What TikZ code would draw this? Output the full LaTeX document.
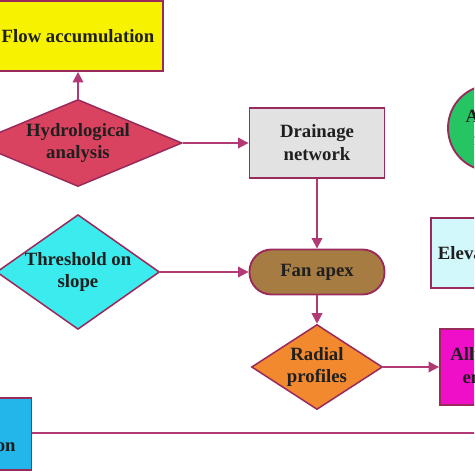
\documentclass[tikz,border=0pt]{standalone}
\usepackage{fontspec}
\setmainfont{Liberation Serif}
\usetikzlibrary{shapes.geometric,arrows.meta}

\definecolor{rim}{HTML}{9A2A5C}
\definecolor{wire}{HTML}{B23A74}
\definecolor{flowfill}{HTML}{F7F300}
\definecolor{hydrofill}{HTML}{D9435F}
\definecolor{drainfill}{HTML}{E2E2E2}
\definecolor{apexfill}{HTML}{A67C43}
\definecolor{slopefill}{HTML}{3CEBEE}
\definecolor{radialfill}{HTML}{F2892F}
\definecolor{fanfill}{HTML}{F00FC8}
\definecolor{activefill}{HTML}{26C463}
\definecolor{elevfill}{HTML}{D2F8FB}
\definecolor{classfill}{HTML}{22B6EA}

\tikzset{
  label font/.style={font=\fontsize{16}{19.5}\selectfont\bfseries, text=black!88, align=center},
  box/.style={rectangle, draw=rim, line width=1.6pt, label font,
    minimum width=4.05cm, minimum height=2.1cm},
  pill/.style={box, rounded corners=0.66cm, minimum height=1.35cm},
  decision/.style={diamond, draw=rim, line width=1.3pt, inner sep=0pt, label font},
  disc/.style={circle, draw=rim, line width=1.6pt, label font, minimum size=2.58cm, inner sep=0pt},
  link/.style={draw=wire, line width=1.6pt, -{Triangle[length=9pt,width=9pt]}},
  plain link/.style={draw=wire, line width=1.6pt}
}

\begin{document}
\begin{tikzpicture}[x=0.03cm,y=-0.03cm]
\useasboundingbox (0,0) rectangle (474,474);
\clip (0,0) rectangle (474,474);

\node[box,fill=flowfill,minimum width=5.1cm] (flow) at (78,36) {Flow accumulation};
\node[decision,fill=hydrofill,aspect=2.39,minimum width=6.24cm,minimum height=2.61cm] (hydro) at (78,143) {Hydrological\\analysis};
\node[box,fill=drainfill] (drain) at (317,143) {Drainage\\network};
\node[disc,fill=activefill] (active) at (491,128) {Active\\fans};

\node[decision,fill=slopefill,aspect=1.42,minimum width=4.8cm,minimum height=3.39cm] (slope) at (78,272) {Threshold on\\slope};
\node[pill,fill=apexfill] (apex) at (317,272) {Fan apex};
\node[box,fill=elevfill,minimum width=2.7cm] (elev) at (476,253) {Elevation};

\node[decision,fill=radialfill,aspect=1.54,minimum width=3.93cm,minimum height=2.55cm] (radial) at (317,367) {Radial\\profiles};
\node[box,fill=fanfill,minimum width=3.45cm,minimum height=2.28cm] (fan) at (497.5,367) {Alluvial fan\\envelope};

\node[box,fill=classfill,minimum height=2.16cm] (classif) at (-36,434) {Fan\\classification};
\coordinate (offpage) at (490,433);

\draw[link] (hydro.north) -- (flow.south);
\draw[link] (hydro.east) -- (drain.west);
\draw[link] (drain.south) -- (apex.north);
\draw[link] (slope.east) -- (apex.west);
\draw[link] (apex.south) -- (radial.north);
\draw[link] (radial.east) -- (fan.west);
\draw[plain link] (classif.east |- offpage) -- (offpage);
\end{tikzpicture}
\end{document}
